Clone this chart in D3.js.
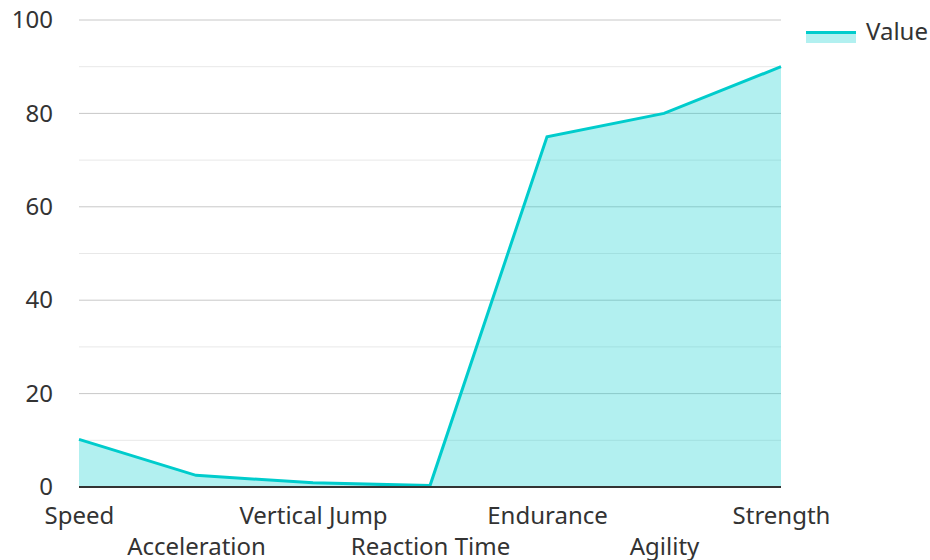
<!DOCTYPE html>
<html lang="en">
<head>
    <meta charset="UTF-8">
    <title>Value</title>
    <script src="https://d3js.org/d3.v7.min.js"></script>
    <style>
        body { margin: 0; background: #fff; }
        svg, svg text { font-family: "Noto Sans", "Open Sans", sans-serif; }
        .tick text { fill: #333; font-size: 24px; }
    </style>
</head>
<body>
    <svg></svg>
    <script>
        const categories = ['Speed', 'Acceleration', 'Vertical Jump', 'Reaction Time', 'Endurance', 'Agility', 'Strength'];
        const values = [10.2, 2.5, 0.9, 0.3, 75, 80, 90];
        const yTicks = [0, 20, 40, 60, 80, 100];
        const minorTicks = [10, 30, 50, 70, 90];
        const seriesName = 'Value';

        const data = categories.map((c, i) => ({ cat: c, value: values[i] }));

        const width = 930, height = 560;
        const margin = { top: 20, right: 149, bottom: 73, left: 79 };
        const w = width - margin.left - margin.right,
              h = height - margin.top - margin.bottom;

        const svg = d3.select('svg')
            .attr('width', width)
            .attr('height', height);

        const g = svg.append('g')
            .attr('transform', `translate(${margin.left},${margin.top})`);

        const x = d3.scalePoint()
            .domain(categories)
            .range([0, w]);

        const y = d3.scaleLinear()
            .domain([0, 100])
            .range([h, 0]);

        // minor grid
        g.selectAll('.minor')
            .data(minorTicks)
            .enter().append('line')
            .attr('x1', 0).attr('x2', w)
            .attr('y1', d => y(d)).attr('y2', d => y(d))
            .attr('stroke', '#e8e8e8')
            .attr('stroke-width', 1);

        // major grid
        g.selectAll('.major')
            .data(yTicks.filter(d => d > 0))
            .enter().append('line')
            .attr('x1', 0).attr('x2', w)
            .attr('y1', d => y(d)).attr('y2', d => y(d))
            .attr('stroke', '#c8c8c8')
            .attr('stroke-width', 1);

        const area = d3.area()
            .x(d => x(d.cat))
            .y0(y(0))
            .y1(d => y(d.value));

        const line = d3.line()
            .x(d => x(d.cat))
            .y(d => y(d.value));

        g.append('path')
            .datum(data)
            .attr('d', area)
            .attr('fill', '#00cccc')
            .attr('fill-opacity', 0.3);

        g.append('path')
            .datum(data)
            .attr('d', line)
            .attr('fill', 'none')
            .attr('stroke', '#00cccc')
            .attr('stroke-width', 3);

        // baseline
        g.append('line')
            .attr('x1', 0).attr('x2', w)
            .attr('y1', y(0)).attr('y2', y(0))
            .attr('stroke', '#333')
            .attr('stroke-width', 2);

        // y axis
        const yAxis = g.append('g')
            .call(d3.axisLeft(y).tickValues(yTicks).tickSize(0).tickPadding(26))
            .attr('font-family', null).attr('font-size', null);
        yAxis.select('.domain').remove();
        yAxis.selectAll('text').attr('dy', '0.32em');

        // x axis with staggered labels
        const xAxis = g.append('g')
            .attr('transform', `translate(0,${h})`)
            .call(d3.axisBottom(x).tickSize(0).tickPadding(0))
            .attr('font-family', null).attr('font-size', null);
        xAxis.select('.domain').remove();
        xAxis.selectAll('text')
            .attr('y', (d, i) => i % 2 === 0 ? 37 : 68)
            .attr('dy', 0);

        // legend
        const lg = svg.append('g').attr('transform', 'translate(806,31)');
        lg.append('rect')
            .attr('x', 0).attr('y', 0)
            .attr('width', 50).attr('height', 12)
            .attr('fill', '#00cccc')
            .attr('fill-opacity', 0.3);
        lg.append('line')
            .attr('x1', 0).attr('x2', 50)
            .attr('y1', 1.5).attr('y2', 1.5)
            .attr('stroke', '#00cccc')
            .attr('stroke-width', 3);
        lg.append('text')
            .attr('x', 60).attr('y', 8.5)
            .attr('fill', '#333')
            .style('font-size', '24px')
            .text(seriesName);
    </script>
</body>
</html>
